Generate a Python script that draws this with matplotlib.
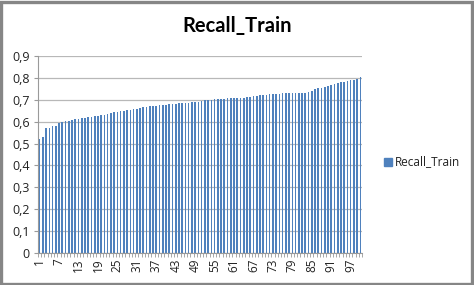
import matplotlib
matplotlib.use('Agg')
import matplotlib.pyplot as plt
import numpy as np
from matplotlib.patches import Rectangle

# sorted recall values
recall_train = [
    0.520, 0.530, 0.570, 0.570, 0.580, 0.580, 0.595, 0.600, 0.602, 0.605,
    0.607, 0.610, 0.612, 0.615, 0.617, 0.620, 0.622, 0.625, 0.627, 0.630,
    0.632, 0.635, 0.640, 0.642, 0.645, 0.647, 0.650, 0.652, 0.655, 0.657,
    0.660, 0.662, 0.665, 0.668, 0.670, 0.672, 0.673, 0.675, 0.676, 0.678,
    0.679, 0.681, 0.682, 0.683, 0.684, 0.685, 0.686, 0.688, 0.690, 0.692,
    0.695, 0.698, 0.700, 0.701, 0.702, 0.703, 0.704, 0.705, 0.706, 0.707,
    0.708, 0.709, 0.709, 0.710, 0.711, 0.713, 0.715, 0.718, 0.720, 0.722,
    0.724, 0.725, 0.726, 0.727, 0.728, 0.729, 0.730, 0.730, 0.731, 0.731,
    0.732, 0.732, 0.733, 0.735, 0.742, 0.748, 0.752, 0.755, 0.758, 0.762,
    0.768, 0.773, 0.777, 0.780, 0.783, 0.786, 0.789, 0.791, 0.795, 0.805]
x_idx = np.arange(1, len(recall_train) + 1)
y_ticks = [0, 0.1, 0.2, 0.3, 0.4, 0.5, 0.6, 0.7, 0.8, 0.9]
y_labels = ['0', '0,1', '0,2', '0,3', '0,4', '0,5', '0,6', '0,7', '0,8', '0,9']
x_ticks = list(range(1, 101, 6))

W, H = 474, 285
fig = plt.figure(figsize=(W / 100, H / 100), dpi=100, facecolor='white')

# outer chart border
fig.patches.append(Rectangle((0.002, 0.004), 0.994, 0.99, transform=fig.transFigure,
                             fill=False, edgecolor='#868686', linewidth=2.4))

left, right, top, bottom = 38, 362, 56, 253
ax = fig.add_axes([left / W, 1 - bottom / H, (right - left) / W, (bottom - top) / H])

bar_color = '#4F81BD'
ax.bar(x_idx, recall_train, width=0.5, color=bar_color, edgecolor='none', zorder=2)

ax.set_xlim(0.5, len(recall_train) + 0.5)
ax.set_ylim(0, 0.9)
ax.set_yticks(y_ticks)
ax.set_yticklabels(y_labels, fontsize=9, color='#222222', family='Open Sans')
ax.set_xticks(x_ticks)
ax.set_xticklabels([str(t) for t in x_ticks], rotation=90, fontsize=8.5,
                   color='#222222', family='Open Sans')
ax.set_xticks(np.arange(0.5, len(recall_train) + 1, 1), minor=True)
ax.tick_params(axis='x', which='major', length=0, pad=4)
ax.tick_params(axis='x', which='minor', length=3, color='#9a9a9a', width=0.6)
ax.tick_params(axis='y', length=3, color='#9a9a9a', width=0.8, pad=3)

ax.yaxis.grid(True, color='#b8b8b8', linewidth=0.9, zorder=0)
ax.set_axisbelow(True)
for s in ['top', 'right']:
    ax.spines[s].set_visible(False)
ax.spines['left'].set_color('#9a9a9a')
ax.spines['bottom'].set_color('#9a9a9a')

fig.text(237 / W, 1 - 26 / H, 'Recall_Train', ha='center', va='center',
         fontsize=14.5, fontweight='bold', family='Lato')

# legend
fig.patches.append(Rectangle((384 / W, 1 - 166 / H), 8 / W, 8 / H,
                             transform=fig.transFigure, color=bar_color))
fig.text(395 / W, 1 - 162 / H, 'Recall_Train', ha='left', va='center',
         fontsize=8.5, color='#222222', family='Open Sans')

fig.savefig('out.png', dpi=100, facecolor='white')
